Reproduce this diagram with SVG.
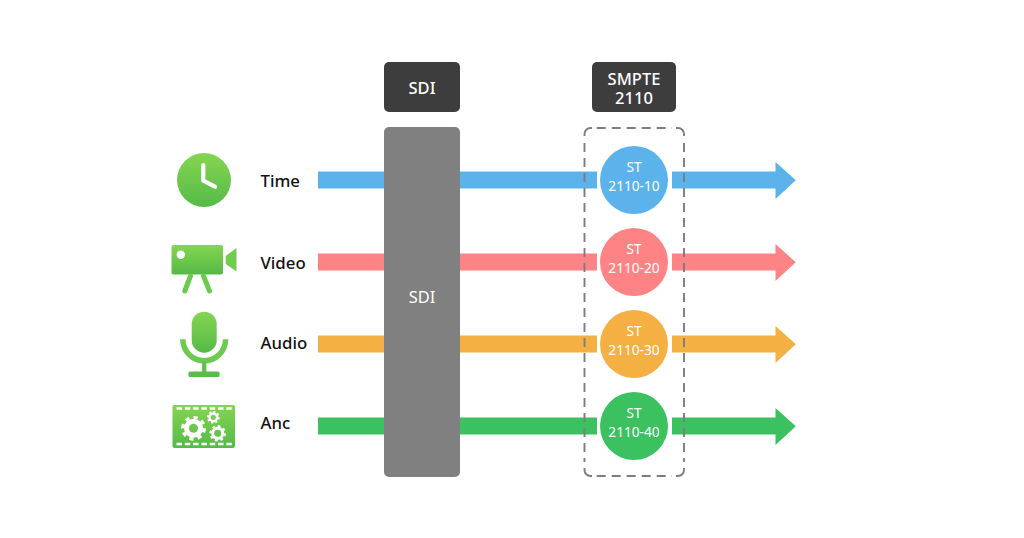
<svg xmlns="http://www.w3.org/2000/svg" width="1024" height="538" viewBox="0 0 1024 538">
<style>
text{font-family:"Noto Sans","Open Sans",sans-serif;text-anchor:middle}
.l{font-size:16.800px;font-weight:500;fill:#111;text-anchor:start}
.w{fill:#fff;font-size:13.700px;font-weight:400}
.h{fill:#fff;font-size:16.500px;font-weight:500}
.ico{fill:url(#g)}
.dash{fill:none;stroke:#7d7d7d;stroke-width:1.900}
.tip{stroke-dasharray:1 1;fill:none;stroke:#fff}
</style>
<defs>
<linearGradient id="g" x1="0" y1="0" x2="0" y2="1"><stop offset="0" stop-color="#85d551"/><stop offset="1" stop-color="#55ba47"/></linearGradient>
</defs>
<rect width="1024" height="538" fill="#fff"/>
<g id="connectors">
<path fill="#5cb3ec" d="M318 171.500H597V188.500H318Z M672 171.500H775.500V162L795.800 180.300L775.500 199V188.500H672Z"/>
<path fill="#fd8385" d="M318 253.500H597V270.500H318Z M672 253.500H775.500V244L795.800 262.300L775.500 281V270.500H672Z"/>
<path fill="#f4b043" d="M318 335.500H597V352.500H318Z M672 335.500H775.500V326L795.800 344.300L775.500 363V352.500H672Z"/>
<path fill="#3bc15f" d="M318 417.500H597V434.500H318Z M672 417.500H775.500V408L795.800 426.300L775.500 445V434.500H672Z"/>
</g>
<g id="sdi-bar"><rect x="384" y="127" width="76" height="350" rx="5" fill="#808080"/><text class="h" x="422" y="303" style="font-weight:400">SDI</text></g>
<g id="sdi-head"><rect x="384" y="62" width="76" height="50" rx="5" fill="#3d3d3d"/><text class="h" x="422" y="94">SDI</text></g>
<g id="smpte-head"><rect x="592" y="62" width="84" height="50" rx="5" fill="#3d3d3d"/><text class="h" x="634" y="85">SMPTE</text><text class="h" x="634" y="104">2110</text></g>
<g id="group-box">
<path class="dash" d="M584.500 136V134A6 6 0 0 1 590.500 128H592M676 128H678A6 6 0 0 1 684 134V136M684 468V470A6 6 0 0 1 678 476H676M592 476H590.500A6 6 0 0 1 584.500 470V468"/>
<path class="dash" stroke-dasharray="9 6" d="M596.700 128H672M596.700 476H672M584.500 143V462M684 143V462"/>
</g>
<g id="st10"><circle cx="634" cy="180" r="34" fill="#5cb3ec"/><text class="w" x="634" y="171.500">ST</text><text class="w" x="634" y="190.500">2110-10</text></g>
<g id="st20"><circle cx="634" cy="262" r="34" fill="#fd8385"/><text class="w" x="634" y="253.500">ST</text><text class="w" x="634" y="272.500">2110-20</text></g>
<g id="st30"><circle cx="634" cy="344" r="34" fill="#f4b043"/><text class="w" x="634" y="335.500">ST</text><text class="w" x="634" y="354.500">2110-30</text></g>
<g id="st40"><circle cx="634" cy="426" r="34" fill="#3bc15f"/><text class="w" x="634" y="417.500">ST</text><text class="w" x="634" y="436.500">2110-40</text></g>
<g id="time"><circle class="ico" cx="204" cy="180" r="27"/><path d="M203.300 165V180.700L215 186.700" fill="none" stroke="#fff" stroke-width="4.200" stroke-linecap="round" stroke-linejoin="round"/><text class="l" x="260.500" y="186.500">Time</text></g>
<g id="video"><rect class="ico" x="171.500" y="245" width="51.500" height="29.500" rx="2"/><circle cx="180.800" cy="254.700" r="4.200" fill="#fff"/><path fill="#72cd4e" d="M225.700 256L236.500 248V271.500L225.700 264Z"/><path d="M190.500 276L184.800 291M203.500 276L209.500 291" stroke="#6ccb4e" stroke-width="5" stroke-linecap="round"/><text class="l" x="260.500" y="269">Video</text></g>
<g id="audio"><rect class="ico" x="191.700" y="311.700" width="25" height="41" rx="12.500"/><path d="M182.800 339.300A21.400 21.400 0 0 0 225.600 339.300" fill="none" stroke="#6ccb4e" stroke-width="5.500"/><path d="M204.200 361V373" stroke="#60c14a" stroke-width="4.200"/><rect x="188.500" y="371.500" width="31" height="5.500" rx="1.500" fill="#58bc48"/><text class="l" x="260.500" y="349">Audio</text></g>
<g id="anc"><rect class="ico" x="172.500" y="405" width="62.500" height="43" rx="2"/><path d="M176.500 408.500H232M176.500 444H232" stroke="#fff" stroke-width="2.700" stroke-dasharray="5.500 2.800"/>
<circle class="tip" cx="193.500" cy="428.300" r="7" stroke-width="5" style="stroke-dasharray:none"/><circle class="tip" cx="193.500" cy="428.300" r="10.800" stroke-width="3.200" pathLength="16"/>
<circle class="tip" cx="213.300" cy="417.300" r="3.800" stroke-width="2.400" style="stroke-dasharray:none"/><circle class="tip" cx="213.300" cy="417.300" r="5.400" stroke-width="2" pathLength="16"/>
<circle class="tip" cx="217.700" cy="433.300" r="5" stroke-width="3" style="stroke-dasharray:none"/><circle class="tip" cx="217.700" cy="433.300" r="7.200" stroke-width="2.200" pathLength="16"/>
<text class="l" x="260.500" y="429">Anc</text></g>
</svg>
